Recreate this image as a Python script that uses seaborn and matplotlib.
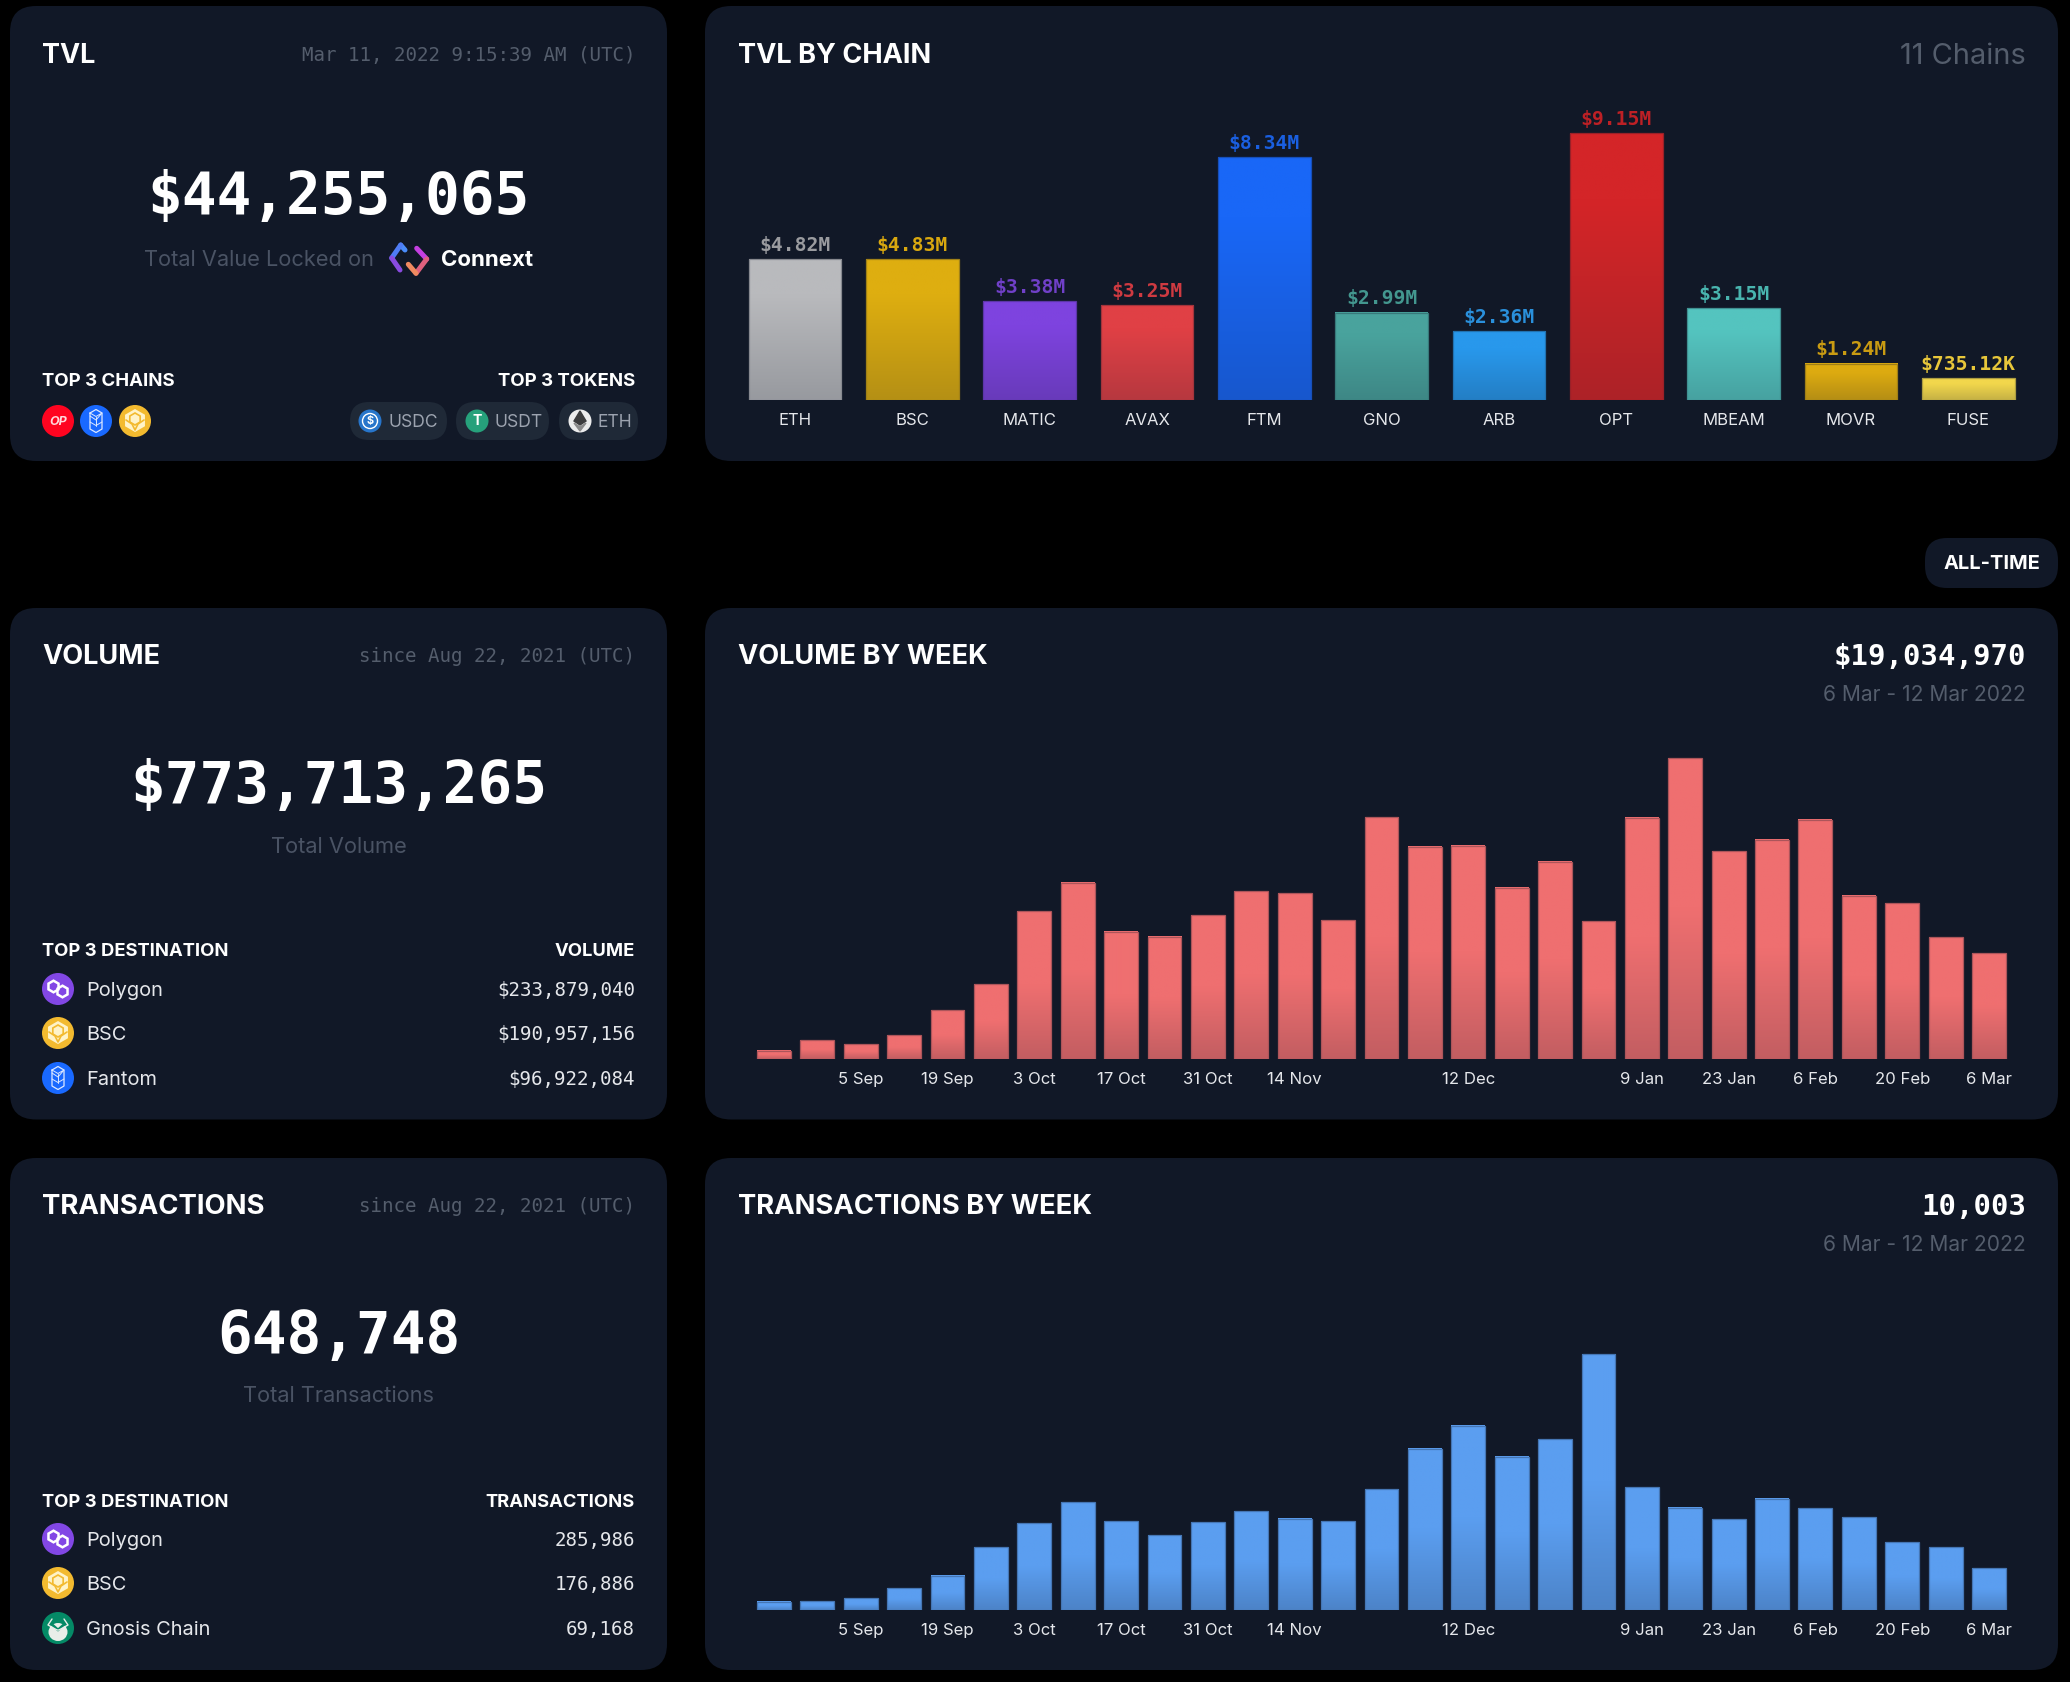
import numpy as np
import matplotlib
matplotlib.use("Agg")
import matplotlib.pyplot as plt
from matplotlib.colors import LinearSegmentedColormap, to_rgb
from matplotlib.patches import Circle, Ellipse, FancyBboxPatch, RegularPolygon
import seaborn as sns

# tvl by chain, $M
chains = ["ETH", "BSC", "MATIC", "AVAX", "FTM", "GNO", "ARB", "OPT", "MBEAM", "MOVR", "FUSE"]
tvl = [4.82, 4.83, 3.38, 3.25, 8.34, 2.99, 2.36, 9.15, 3.15, 1.24, 0.73512]
tvl_labels = ["$4.82M", "$4.83M", "$3.38M", "$3.25M", "$8.34M", "$2.99M", "$2.36M", "$9.15M", "$3.15M", "$1.24M", "$735.12K"]
tvl_colors = ["#B9BABD", "#DEAE10", "#7E43DF", "#E04045", "#1967F7", "#49A39D", "#2898EC", "#D42528", "#54C4BF", "#DDAB10", "#F2D74C"]
tvl_label_colors = ["#9A9B9F", "#D9A80F", "#7040C8", "#CF3A41", "#1A5FE0", "#43978F", "#2A90DC", "#BD2025", "#49B5AF", "#C99B12", "#E8C73A"]

# weekly series, 22 Aug 2021 to 6 Mar 2022
weeks = ["22 Aug", "29 Aug", "5 Sep", "12 Sep", "19 Sep", "26 Sep", "3 Oct", "10 Oct", "17 Oct", "24 Oct",
         "31 Oct", "7 Nov", "14 Nov", "21 Nov", "28 Nov", "5 Dec", "12 Dec", "19 Dec", "26 Dec", "2 Jan",
         "9 Jan", "16 Jan", "23 Jan", "30 Jan", "6 Feb", "13 Feb", "20 Feb", "27 Feb", "6 Mar"]
shown_weeks = ["5 Sep", "19 Sep", "3 Oct", "17 Oct", "31 Oct", "14 Nov", "12 Dec", "9 Jan", "23 Jan", "6 Feb", "20 Feb", "6 Mar"]
volume = [1.50, 3.36, 2.70, 4.26, 8.82, 13.45, 26.60, 31.76, 22.93, 22.03, 25.93, 30.20, 29.84, 24.97, 43.58,
          38.24, 38.36, 30.80, 35.54, 24.79, 43.46, 54.15, 37.40, 39.44, 43.10, 29.36, 28.04, 21.97, 19.03]
transactions = [1936, 2098, 2742, 5244, 8228, 15084, 20974, 25974, 21458, 18070, 21134, 23796, 22022, 21458, 29120,
                38962, 44528, 37026, 41302, 61790, 29604, 24684, 21942, 26862, 24522, 22426, 16294, 15166, 10003]

volume_dest = ["Polygon", "BSC", "Fantom"]
volume_dest_values = ["$233,879,040", "$190,957,156", "$96,922,084"]
tx_dest = ["Polygon", "BSC", "Gnosis Chain"]
tx_dest_values = ["285,986", "176,886", "69,168"]

SANS = ["Inter", "DejaVu Sans"]
MONO = ["DejaVu Sans Mono"]
CARD = "#111827"
MUTED = "#545D6C"
FAINT = "#4A5364"
SOFT = "#E5E7EB"
W, H = 2070, 1682

sns.set_theme(style="dark")
plt.rcParams["font.family"] = SANS

fig = plt.figure(figsize=(W / 100, H / 100), dpi=100, facecolor="black")
bg = fig.add_axes([0, 0, 1, 1], zorder=0)
bg.set_xlim(0, W)
bg.set_ylim(H, 0)
bg.axis("off")


def put(x, y, s, px, color="white", ha="left", weight="normal", family=SANS, **kw):
    # va=center sits a little high, nudge it down
    nudge = px * (0.07 if family is MONO else 0.09)
    bg.text(x, y + nudge, s, fontsize=px * 0.72, color=color, ha=ha, va="center", weight=weight, family=family, **kw)


def box(x0, y0, x1, y1, r, color=CARD):
    bg.add_patch(FancyBboxPatch((x0 + r, y0 + r), x1 - x0 - 2 * r, y1 - y0 - 2 * r,
                                boxstyle=f"round,pad={r},rounding_size={r}", fc=color, ec="none"))


def disc(x, y, r, color):
    bg.add_patch(Circle((x, y), r, fc=color, ec="none"))


def mix(c, other, amt):
    return tuple(a * (1 - amt) + b * amt for a, b in zip(to_rgb(c), to_rgb(other)))


def gradient_bars(ax, start):
    # every bar keeps its colour down to start, then fades towards the card colour
    ymin, ymax = ax.get_ylim()
    xmin, xmax = ax.get_xlim()
    for bar in ax.patches:
        c = bar.get_facecolor()[:3]
        low = mix(c, CARD, 0.2)
        cmap = LinearSegmentedColormap.from_list("g", [(0, c), (start, c), (1, low)])
        x0, w, h = bar.get_x(), bar.get_width(), bar.get_height()
        ax.imshow(np.linspace(0, 1, 128).reshape(-1, 1), cmap=cmap, vmin=0, vmax=1, aspect="auto",
                  extent=(x0, x0 + w, 0, h), origin="upper", zorder=1, interpolation="bilinear")
        bar.set_facecolor("none")
        bar.set_edgecolor(mix(c, CARD, 0.3))
        bar.set_linewidth(0.9)
        bar.set_zorder(2)
    ax.set_xlim(xmin, xmax)
    ax.set_ylim(ymin, ymax)


def chart_axes(x0, x1, top, base):
    ax = fig.add_axes([x0 / W, 1 - base / H, (x1 - x0) / W, (base - top) / H], zorder=2)
    ax.patch.set_alpha(0)
    sns.despine(ax=ax, left=True, bottom=True)
    ax.grid(False)
    return ax


def finish_axes(ax, labels, px):
    ax.set_xlabel("")
    ax.set_ylabel("")
    ax.set_yticks([])
    ax.set_xticks(range(len(labels)))
    ax.set_xticklabels(labels, fontsize=px * 0.72, color=SOFT)
    ax.tick_params(axis="x", length=0, pad=9.5)


def weekly_chart(values, color, top, base, ymax):
    ax = chart_axes(752.2, 2010.7, top, base)
    sns.barplot(x=weeks, y=values, color=color, saturation=1, width=0.78, ax=ax)
    ax.set_ylim(0, ymax)
    finish_axes(ax, [w if w in shown_weeks else "" for w in weeks], 16.7)
    gradient_bars(ax, 0.5)


def icon_polygon(x, y):
    disc(x, y, 16, "#8247E5")
    for dx, dy in [(-4.5, -2.5), (4.5, 2.5)]:
        bg.add_patch(RegularPolygon((x + dx, y + dy), 6, radius=5.8, fc="none", ec="white", lw=1.8))


def icon_bnb(x, y):
    disc(x, y, 16, "#F3BA2F")
    bg.add_patch(RegularPolygon((x, y - 0.5), 6, radius=11.5, fc="#FFF3C8", ec="none"))
    bg.add_patch(RegularPolygon((x, y - 2), 6, radius=6, fc="none", ec="#F3BA2F", lw=1.2))
    bg.plot([x - 9, x - 3, x, x + 3, x + 9], [y - 1, y + 3, y + 9, y + 3, y - 1], color="#F3BA2F", lw=1.2)


def icon_fantom(x, y):
    disc(x, y, 16, "#1969FF")
    xs = [x - 6, x, x + 6, x + 6, x, x - 6, x - 6]
    ys = [y - 8, y - 11.5, y - 8, y + 8, y + 11.5, y + 8, y - 8]
    bg.plot(xs, ys, color="#DCE8FF", lw=0.9)
    bg.plot([x - 6, x, x + 6, x, x - 6], [y - 8, y - 4.5, y - 8, y - 1, y - 5], color="#DCE8FF", lw=0.7)
    bg.plot([x - 6, x, x + 6], [y + 1, y + 4.5, y + 1], color="#DCE8FF", lw=0.7)
    bg.plot([x, x], [y - 4.5, y + 4.5], color="#DCE8FF", lw=0.7)


def icon_gnosis(x, y):
    disc(x, y, 16, "#048A66")
    bg.add_patch(Ellipse((x, y + 4), 19, 18, fc="#E8EEE9", ec="none"))
    bg.plot([x - 10, x, x + 10], [y - 7, y + 2, y - 7], color="#048A66", lw=2)
    bg.plot([x - 6, x - 10, x - 1, x + 1, x + 10, x + 6], [y - 9, y - 3, y + 2, y + 2, y - 3, y - 9], color="#E8EEE9", lw=1)


def icon_op(x, y):
    disc(x, y, 16, "#FF0420")
    put(x, y, "OP", 12.5, color="#FFD8DC", ha="center", weight="bold", style="italic")


def icon_connext():
    for xs, ys, c in [([405, 400.7], [250, 245], "#4A8DFB"), ([400.7, 391.7], [245, 258], "#4F7CF5"),
                      ([391.7, 400], [258, 270], "#8A4BE0"), ([416.7, 426.7], [248.3, 259], "#C43FE0"),
                      ([426.7, 416], [259, 273.3], "#E0607E"), ([416, 408.3], [273.3, 264.3], "#F08A60")]:
        bg.plot(xs, ys, color=c, lw=3.6, solid_capstyle="round")


def token_icons():
    disc(370, 421, 11.5, "#2775CA")
    bg.add_patch(Circle((370, 421), 7.5, fc="none", ec="white", lw=1))
    put(370, 420, "$", 11, ha="center", weight="bold")
    disc(477, 421, 11.5, "#26A17B")
    put(477, 420, "T", 14, ha="center", weight="bold")
    disc(580, 421, 11.5, "#ECECEC")
    bg.fill([574, 580, 586, 580], [421, 411, 421, 425], color="#3C3C3D")
    bg.fill([574, 580, 586, 580], [423, 427, 423, 431], color="#8A8A8A")


ICONS = {"Polygon": icon_polygon, "BSC": icon_bnb, "Fantom": icon_fantom, "Gnosis Chain": icon_gnosis}


def dest_table(names, values, right_head, head_y, rows_y):
    put(42, head_y + 0.7, "TOP 3 DESTINATION", 18.4, weight="bold")
    put(635, head_y + 0.7, right_head, 18.4, ha="right", weight="bold")
    for name, val, y in zip(names, values, rows_y):
        ICONS[name](58, y)
        put(86, y, name, 20, color=SOFT)
        put(635, y, val, 19.1, color=SOFT, ha="right", family=MONO)


# cards
box(10, 6, 667, 461, 26)
box(705, 6, 2058, 461, 26)
box(10, 608, 667, 1119.5, 26)
box(705, 608, 2058, 1119.5, 26)
box(10, 1158, 667, 1670, 26)
box(705, 1158, 2058, 1670, 26)
box(1925, 538, 2058, 588, 22)
put(1992, 562.5, "ALL-TIME", 20, ha="center", weight="bold")

# tvl card
put(42, 54, "TVL", 27, weight="bold")
put(635, 54, "Mar 11, 2022 9:15:39 AM (UTC)", 19.1, color=MUTED, ha="right", family=MONO)
put(338.5, 193, "$44,255,065", 57.8, ha="center", weight="bold", family=MONO)
put(144, 258, "Total Value Locked on", 21.8, color=FAINT)
icon_connext()
put(441, 258, "Connext", 22.3, weight="bold")
put(42, 379.7, "TOP 3 CHAINS", 18.6, weight="bold")
put(635, 379.7, "TOP 3 TOKENS", 18.6, ha="right", weight="bold")
icon_op(58, 421)
icon_fantom(96, 421)
icon_bnb(135, 421)
box(350, 402, 447, 440, 19, "#1F2937")
box(456, 402, 549, 440, 19, "#1F2937")
box(559, 402, 638, 440, 19, "#1F2937")
token_icons()
put(388.5, 421, "USDC", 17.5, color="#9CA3AF")
put(495, 421, "USDT", 17.5, color="#9CA3AF")
put(597.5, 421, "ETH", 17.5, color="#9CA3AF")

# tvl by chain
put(738, 54, "TVL BY CHAIN", 27.2, weight="bold")
put(2026, 54, "11 Chains", 29, color=MUTED, ha="right")
ax_tvl = chart_axes(736.4, 2027, 100, 399.7)
sns.barplot(x=chains, y=tvl, hue=chains, palette=tvl_colors, legend=False, saturation=1, width=0.79, ax=ax_tvl)
ax_tvl.set_ylim(0, 299.7 / 29.1)
finish_axes(ax_tvl, chains, 16.7)
for bar, label, col in zip(ax_tvl.patches, tvl_labels, tvl_label_colors):
    ax_tvl.annotate(label, (bar.get_x() + bar.get_width() / 2, bar.get_height()), xytext=(0, 10), textcoords="offset points",
                    ha="center", va="center", fontsize=14.1, color=col, family=MONO, weight="bold", annotation_clip=False)
gradient_bars(ax_tvl, 0.25)

# volume row
put(42, 655, "VOLUME", 27.2, weight="bold")
put(635, 655, "since Aug 22, 2021 (UTC)", 19.1, color=MUTED, ha="right", family=MONO)
put(338.5, 782, "$773,713,265", 57.8, ha="center", weight="bold", family=MONO)
put(338.5, 845, "Total Volume", 21.8, color=FAINT, ha="center")
dest_table(volume_dest, volume_dest_values, "VOLUME", 949, [989, 1033, 1078])
put(738, 655, "VOLUME BY WEEK", 27.2, weight="bold")
put(2026, 655, "$19,034,970", 29, ha="right", weight="bold", family=MONO)
put(2026, 693, "6 Mar - 12 Mar 2022", 21, color=MUTED, ha="right")
weekly_chart(volume, "#EF6F70", 720, 1059, 61.05)

# transactions row
put(42, 1205, "TRANSACTIONS", 27.5, weight="bold")
put(635, 1205, "since Aug 22, 2021 (UTC)", 19.1, color=MUTED, ha="right", family=MONO)
put(338.5, 1332, "648,748", 57.8, ha="center", weight="bold", family=MONO)
put(338.5, 1394, "Total Transactions", 21.8, color=FAINT, ha="center")
dest_table(tx_dest, tx_dest_values, "TRANSACTIONS", 1500, [1539, 1583, 1628])
put(738, 1205, "TRANSACTIONS BY WEEK", 27.4, weight="bold")
put(2026, 1205, "10,003", 29, ha="right", weight="bold", family=MONO)
put(2026, 1243, "6 Mar - 12 Mar 2022", 21, color=MUTED, ha="right")
weekly_chart(transactions, "#5B9EF0", 1320, 1609.7, 70107)

fig.savefig("out.png", dpi=100, facecolor="black")
